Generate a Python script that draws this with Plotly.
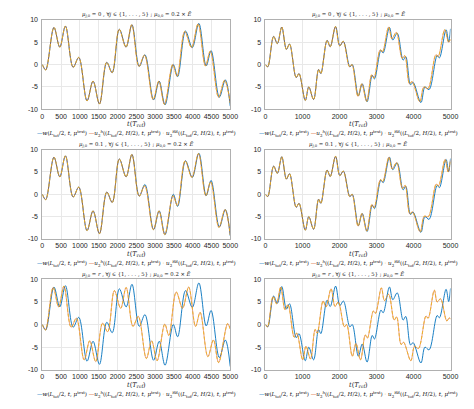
import plotly.graph_objects as go

# ---------------- data ----------------
# left column reference curve w
left_w_t = [0, 90, 310, 465, 615, 820, 970, 1190, 1350, 1520, 1715, 1860, 2050, 2230, 2385, 2580, 2730,
            2960, 3110, 3265, 3485, 3600, 3810, 3990, 4165, 4360, 4490, 4710, 4870, 5000]
left_w_y = [0, -1.2, 8.3, 3.9, 8.6, -0.6, 1.6, -8.1, -3.7, -8.8, 0.5, -1.8, 7.9, 3.9, 8.9, -0.4, 2.2,
            -7.9, -3.7, -9.0, 0.0, -2.7, 7.5, 3.8, 9.2, -0.3, 3.1, -7.3, -3.4, -9.3]

# left top: mu_j0 = 0
lt_u_t = [0, 90, 310, 465, 615, 820, 970, 1190, 1350, 1520, 1710, 1855, 2045, 2225, 2380, 2570, 2720,
          2950, 3100, 3250, 3470, 3585, 3790, 3970, 4145, 4340, 4470, 4690, 4850, 5000]
lt_u_y = [0, -1.2, 8.3, 3.9, 8.6, -0.6, 1.6, -8.1, -3.7, -8.8, 0.5, -1.8, 7.9, 3.9, 8.9, -0.4, 2.1,
          -7.8, -3.7, -8.9, 0.0, -2.6, 7.4, 3.8, 9.1, -0.3, 3.0, -7.3, -3.5, -8.6]

# left middle: mu_j0 = 0.1
lm_u_t = [0, 90, 310, 465, 615, 820, 970, 1190, 1350, 1520, 1715, 1860, 2048, 2228, 2383, 2576, 2725,
          2955, 3105, 3258, 3478, 3593, 3800, 3980, 4155, 4350, 4480, 4700, 4860, 5000]
lm_u_y = [0, -1.2, 8.3, 3.9, 8.6, -0.6, 1.6, -8.1, -3.7, -8.8, 0.5, -1.8, 7.9, 3.9, 8.9, -0.4, 1.9,
          -7.9, -3.7, -9.0, -0.3, -2.5, 7.5, 3.8, 9.1, -0.3, 2.8, -7.4, -3.4, -9.1]

# left bottom: mu_j0 = r
lb_u_t = [0, 84, 290, 435, 575, 767, 907, 1113, 1262, 1421, 1604, 1739, 1917, 2085, 2230, 2412, 2553,
          2768, 2908, 3053, 3258, 3366, 3562, 3731, 3894, 4077, 4198, 4404, 4553, 4690, 4930, 5000]
lb_u_y = [0, -1.2, 8.2, 3.9, 8.5, -0.6, 1.4, -7.8, -3.6, -8.2, 0.3, -1.6, 7.5, 3.6, 8.2, -0.4, 1.8,
          -7.5, -3.6, -8.0, 0.1, -2.4, 7.2, 3.6, 8.3, -0.4, 2.7, -7.1, -3.4, -8.4, 0.2, -1.0]

# right column reference curve w
right_w_t = [0, 60, 220, 320, 440, 565, 650, 830, 905, 1075, 1170, 1300, 1435, 1495, 1665, 1750, 1895,
             2010, 2105, 2280, 2345, 2510, 2615, 2745, 2885, 2945, 3120, 3180, 3350, 3440, 3560, 3720,
             3790, 3920, 3990, 4200, 4310, 4420, 4640, 4700, 4880, 4950, 5000]
right_w_y = [0, -0.5, 6.3, 4.7, 8.4, 3.4, 4.6, -2.9, -2.0, -8.0, -5.0, -7.8, -1.1, -2.0, 5.4, 4.0, 8.5,
             4.2, 5.2, -0.5, 0.0, -7.0, -4.3, -8.3, -2.4, -3.2, 3.2, 2.6, 8.3, 5.5, 7.0, 1.0,
             1.8, -4.5, -4.0, -8.5, -5.0, -5.6, 2.0, 1.5, 7.8, 5.1, 8.0]

# right top: mu_j0 = 0
rt_u_t = [0, 60, 220, 320, 440, 565, 650, 830, 905, 1075, 1170, 1300, 1435, 1495, 1665, 1750, 1890,
          2005, 2100, 2272, 2337, 2500, 2605, 2733, 2870, 2930, 3100, 3160, 3328, 3418, 3535, 3695,
          3765, 3893, 3963, 4170, 4280, 4390, 4605, 4665, 4845, 4950, 5000]
rt_u_y = [0, -0.5, 6.3, 4.7, 8.4, 3.4, 4.6, -2.9, -2.0, -8.0, -5.0, -7.8, -1.1, -2.0, 5.4, 4.0, 8.5,
          4.2, 5.2, -0.5, 0.0, -7.1, -4.3, -8.2, -2.3, -3.0, 3.3, 2.8, 8.4, 5.8, 7.2, 1.4,
          2.0, -4.3, -3.8, -8.3, -5.0, -5.4, 2.2, 1.8, 7.8, 5.0, 5.6]

# right middle: mu_j0 = 0.1
rm_u_t = [0, 60, 220, 320, 440, 565, 650, 830, 905, 1075, 1170, 1300, 1435, 1495, 1665, 1750, 1892,
          2007, 2102, 2275, 2340, 2503, 2608, 2737, 2875, 2935, 3108, 3168, 3335, 3425, 3543, 3703,
          3773, 3902, 3972, 4180, 4290, 4400, 4615, 4675, 4855, 4935, 5000]
rm_u_y = [0, -0.5, 6.3, 4.7, 8.4, 3.4, 4.6, -2.9, -2.0, -8.0, -5.0, -7.8, -1.1, -2.0, 5.4, 4.0, 8.5,
          4.2, 5.2, -0.5, 0.0, -7.1, -4.3, -8.2, -2.3, -3.0, 3.3, 2.8, 8.3, 5.7, 7.1, 1.3,
          2.0, -4.4, -3.9, -8.4, -4.9, -5.0, 2.3, 1.9, 7.8, 5.0, 7.6]

# right bottom: mu_j0 = r
rb_u_t = [0, 56, 206, 299, 411, 528, 608, 776, 846, 1005, 1094, 1216, 1342, 1398, 1557, 1636, 1772,
          1879, 1968, 2132, 2193, 2347, 2445, 2567, 2697, 2754, 2917, 2973, 3132, 3216, 3329, 3478,
          3544, 3665, 3731, 3927, 4030, 4133, 4338, 4395, 4563, 4640, 4730, 4900, 4965, 5000]
rb_u_y = [0, -0.5, 6.2, 4.6, 8.3, 3.3, 4.4, -2.8, -1.9, -7.8, -4.8, -7.6, -1.1, -1.9, 5.2, 3.9, 7.9,
          4.0, 5.0, -0.5, 0.0, -7.0, -4.2, -7.8, -2.3, -3.0, 3.0, 2.5, 8.1, 5.3, 6.7, 1.0,
          1.7, -4.4, -3.9, -8.0, -4.8, -5.3, 1.9, 1.4, 7.6, 5.0, 5.7, 0.8, 1.5, 1.2]

panel_titles = [
    "<i>μ</i><sub><i>j</i>,0</sub> = 0 , ∀<i>j</i> ∈ {1, . . . , 5} ; <i>μ</i><sub>0,0</sub> = 0.2 × <i>Ē</i>",
    "<i>μ</i><sub><i>j</i>,0</sub> = 0 , ∀<i>j</i> ∈ {1, . . . , 5} ; <i>μ</i><sub>0,0</sub> = <i>Ē</i>",
    "<i>μ</i><sub><i>j</i>,0</sub> = 0.1 , ∀<i>j</i> ∈ {1, . . . , 5} ; <i>μ</i><sub>0,0</sub> = 0.2 × <i>Ē</i>",
    "<i>μ</i><sub><i>j</i>,0</sub> = 0.1 , ∀<i>j</i> ∈ {1, . . . , 5} ; <i>μ</i><sub>0,0</sub> = <i>Ē</i>",
    "<i>μ</i><sub><i>j</i>,0</sub> = <i>r</i> , ∀<i>j</i> ∈ {1, . . . , 5} ; <i>μ</i><sub>0,0</sub> = 0.2 × <i>Ē</i>",
    "<i>μ</i><sub><i>j</i>,0</sub> = <i>r</i> , ∀<i>j</i> ∈ {1, . . . , 5} ; <i>μ</i><sub>0,0</sub> = <i>Ē</i>",
]
left_xticks = [0, 500, 1000, 1500, 2000, 2500, 3000, 3500, 4000, 4500, 5000]
right_xticks = [0, 1000, 2000, 3000, 4000, 5000]
yticks = [-10, -5, 0, 5, 10]

C_W = "#0072BD"
C_H = "#D95319"
C_RB = "#EDB120"

panels = [
    (left_w_t, left_w_y, lt_u_t, lt_u_y, "left"),
    (right_w_t, right_w_y, rt_u_t, rt_u_y, "right"),
    (left_w_t, left_w_y, lm_u_t, lm_u_y, "left"),
    (right_w_t, right_w_y, rm_u_t, rm_u_y, "right"),
    (left_w_t, left_w_y, lb_u_t, lb_u_y, "left"),
    (right_w_t, right_w_y, rb_u_t, rb_u_y, "right"),
]

W, H = 474, 409
col_px = {"left": (33, 225), "right": (261, 450)}
row_px = [(8, 99), (140, 231), (272, 364)]

def py(p):
    return 1 - p / H

fig = go.Figure()
layout = dict(width=W, height=H, margin=dict(l=0, r=0, t=0, b=0),
              paper_bgcolor="white", plot_bgcolor="white", showlegend=False,
              font=dict(family="Liberation Sans", size=7, color="#262626"))
annotations = []

legend_text = (
    "<span style='color:%s'>—</span><i>w</i>(<i>L</i><sub>tot</sub>/2, <i>t</i>, <i>μ</i><sup>test</sup>)"
    " <span style='color:%s'>—</span><i>u</i><sub>2</sub><sup><i>h</i></sup>((<i>L</i><sub>tot</sub>/2, <i>H</i>/2), <i>t</i>, <i>μ</i><sup>test</sup>)"
    " <span style='color:%s'>·</span> <i>u</i><sub>2</sub><sup>RB</sup>((<i>L</i><sub>tot</sub>/2, <i>H</i>/2), <i>t</i>, <i>μ</i><sup>test</sup>)"
) % (C_W, C_H, C_RB)

for i, (wt, wy, ut, uy, side) in enumerate(panels):
    k = i + 1
    r = i // 2
    xs = "x" if k == 1 else "x%d" % k
    ys = "y" if k == 1 else "y%d" % k
    fig.add_trace(go.Scatter(x=wt, y=wy, mode="lines", line=dict(color=C_W, width=0.9, shape="spline"),
                             xaxis=xs, yaxis=ys))
    fig.add_trace(go.Scatter(x=ut, y=uy, mode="lines", line=dict(color=C_H, width=0.7, shape="spline"),
                             opacity=0.8, xaxis=xs, yaxis=ys))
    fig.add_trace(go.Scatter(x=ut, y=uy, mode="lines",
                             line=dict(color=C_RB, width=0.9, shape="spline", dash="3px,2px"),
                             xaxis=xs, yaxis=ys))
    x0, x1 = col_px[side]
    y0, y1 = row_px[r]
    ticks = left_xticks if side == "left" else right_xticks
    axkey = "xaxis" if k == 1 else "xaxis%d" % k
    aykey = "yaxis" if k == 1 else "yaxis%d" % k
    layout[axkey] = dict(domain=[x0 / W, x1 / W], range=[0, 5000], anchor=ys,
                         tickvals=ticks, ticktext=[str(t) for t in ticks], tickangle=0,
                         showgrid=True, gridcolor="#e8e8e8", gridwidth=0.6,
                         showline=True, linecolor="#b0b0b0", linewidth=0.8, mirror=True,
                         zeroline=False, ticks="", tickfont=dict(size=7, color="#262626"),
                         ticklabelstandoff=0)
    layout[aykey] = dict(domain=[py(y1), py(y0)], range=[-10, 10], anchor=xs,
                         tickvals=yticks, ticktext=[str(t) for t in yticks],
                         showgrid=True, gridcolor="#e8e8e8", gridwidth=0.6,
                         showline=True, linecolor="#b0b0b0", linewidth=0.8, mirror=True,
                         zeroline=False, ticks="", tickfont=dict(size=7, color="#262626"),
                         ticklabelstandoff=2)
    cx = (x0 + x1) / 2 / W
    annotations.append(dict(text=panel_titles[i], x=cx, y=py(y0 - 5), xref="paper", yref="paper",
                            showarrow=False, xanchor="center", yanchor="middle",
                            font=dict(family="DejaVu Serif", size=5.3, color="#111111")))
    annotations.append(dict(text="<i>t</i>(<i>T</i><sub>ref</sub>)", x=cx, y=py(y1 + 15),
                            xref="paper", yref="paper", showarrow=False,
                            xanchor="center", yanchor="middle",
                            font=dict(family="DejaVu Serif", size=6.5, color="#111111")))
    annotations.append(dict(text=legend_text, x=cx, y=py(y1 + 25), xref="paper", yref="paper",
                            showarrow=False, xanchor="center", yanchor="middle",
                            font=dict(family="DejaVu Serif", size=5.6, color="#111111")))

layout["annotations"] = annotations
fig.update_layout(**layout)
fig.write_html("out.html")
